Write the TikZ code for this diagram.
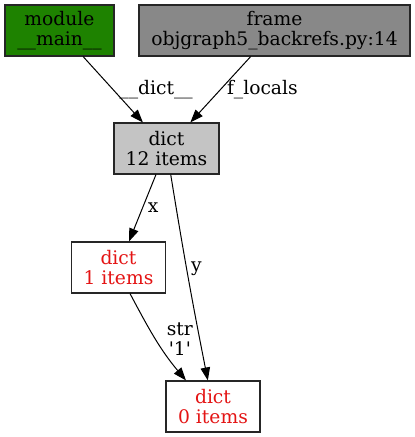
\documentclass[tikz,border=0pt]{standalone}
\usepackage{fontspec}
\setmainfont{DejaVu Serif}[Ligatures=TeXOff]
\usetikzlibrary{arrows.meta}
\definecolor{modgreen}{RGB}{30,130,0}
\definecolor{framegray}{RGB}{136,136,136}
\definecolor{dictgray}{RGB}{196,196,196}
\definecolor{dictred}{RGB}{228,20,20}
\tikzset{
  obj/.style={draw=black!85,line width=1.1pt,align=center,inner sep=0pt,minimum height=51pt,
    font=\fontsize{18.7}{20}\selectfont},
  ref/.style={-{Triangle[length=13pt,width=9.5pt]},line width=1pt},
  lbl/.style={font=\fontsize{18.7}{20}\selectfont,align=center,inner sep=2pt}
}
\begin{document}
\begin{tikzpicture}[x=1pt,y=1pt]
  \useasboundingbox (0,0) rectangle (415,-437);
  % objects
  \node[obj,fill=modgreen,minimum width=109pt] (module) at (59.5,-30.5) {module\\\_\_main\_\_};
  \node[obj,fill=framegray,minimum width=271pt] (frame) at (274.5,-30.5) {frame\\objgraph5\_backrefs.py:14};
  \node[obj,fill=dictgray,minimum width=105pt] (d12) at (166.5,-148.5) {dict\\12 items};
  \node[obj,fill=white,text=dictred,minimum width=94pt] (d1) at (118.5,-267.5) {dict\\1 items};
  \node[obj,fill=white,text=dictred,minimum width=94pt] (d0) at (213,-406.5) {dict\\0 items};
  % references
  \draw[ref] (module) -- (d12) node[lbl,pos=0.5,anchor=west,xshift=4pt] (ldict) {\_\_dict\_\_};
  \draw[ref] (frame) -- (d12) node[lbl,pos=0.5,anchor=west,xshift=4pt] (lloc) {f\_locals};
  \draw[ref] (d12) -- (d1) node[lbl,pos=0.5,anchor=west,xshift=3pt] (lx) {x};
  \draw[ref] (d12) to[bend right=1] node[lbl,pos=0.45,anchor=west,xshift=2pt] (ly) {y} (d0);
  \draw[ref] ([xshift=11.5pt]d1.south) to[out=-62,in=130]
    node[lbl,pos=0.5,anchor=west,xshift=9pt] (lstr) {str\\'1'} ([xshift=-27pt]d0.north);
\end{tikzpicture}
\end{document}
